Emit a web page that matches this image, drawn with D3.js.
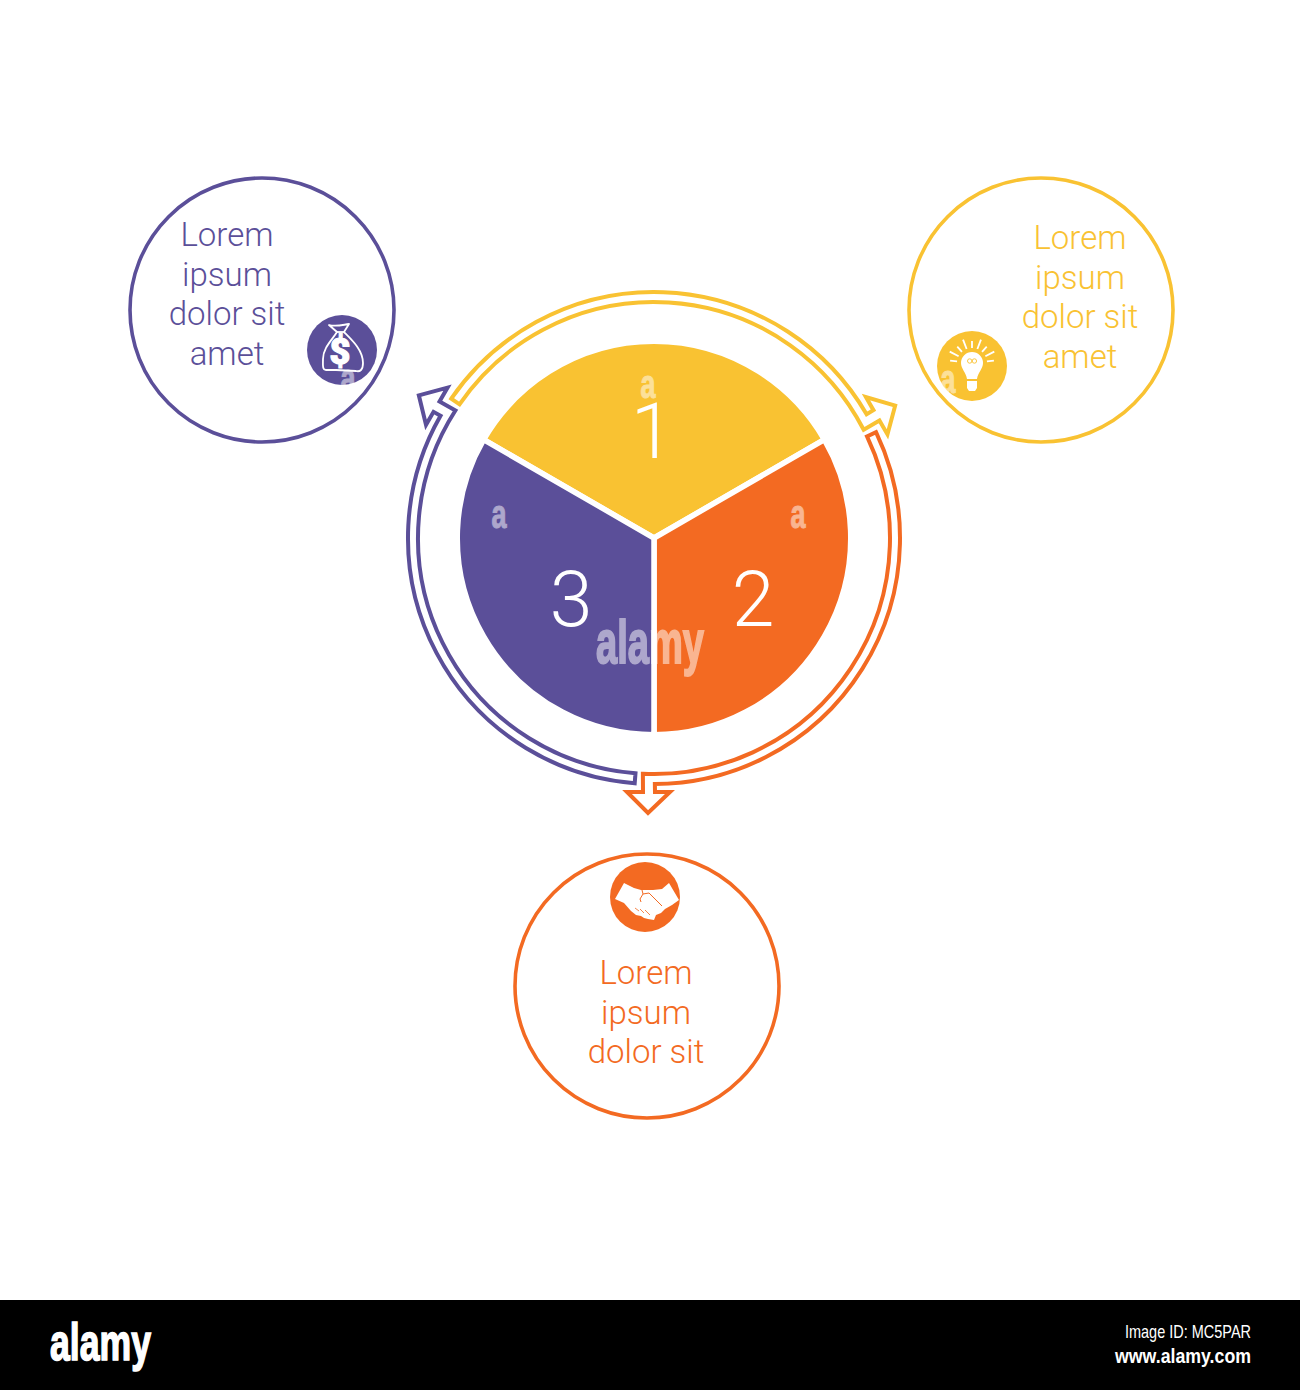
<!DOCTYPE html>
<html>
<head>
<meta charset="utf-8">
<script src="https://cdn.jsdelivr.net/npm/d3@7"></script>
<style>
  html, body { margin: 0; padding: 0; background: #fff; }
  svg { display: block; }
  text { font-family: Roboto, sans-serif; }
  .brand { font-family: "Liberation Sans", sans-serif; font-weight: 700; }
  .narrow { font-family: "Liberation Sans Narrow", "Liberation Sans", sans-serif; }
</style>
</head>
<body>
<svg width="1300" height="1390"></svg>
<script>
// chart values
const steps = ['1', '2', '3'];
const shares = [1, 1, 1];
const colors = ['#f9c232', '#f36a22', '#5b4f99'];
const captions = [
  ['Lorem', 'ipsum', 'dolor sit', 'amet'],
  ['Lorem', 'ipsum', 'dolor sit'],
  ['Lorem', 'ipsum', 'dolor sit', 'amet']
];
const icons = ['bulb', 'hands', 'bag'];

// layout
const svg = d3.select('svg');
const cx = 654, cy = 538, pieR = 196.75;
const rad = d => d * Math.PI / 180;

const bubbles = [
  { x: 1041, y: 310, tx: 1080, ty: 249, ix: 972, iy: 366 },
  { x: 647, y: 986, tx: 646, ty: 984, ix: 645, iy: 897 },
  { x: 262, y: 310, tx: 227, ty: 246, ix: 342, iy: 350 }
];

// pie
let pie = d3.pie().sort(null).startAngle(rad(-60)).endAngle(rad(300));
let arc = d3.arc().innerRadius(0).outerRadius(pieR);
let g = svg.append('g').attr('transform', 'translate(' + cx + ',' + cy + ')');

g.selectAll('.slice')
  .data(pie(shares))
  .enter().append('path')
  .attr('class', 'slice')
  .attr('d', arc)
  .attr('fill', (d, i) => colors[i])
  .attr('stroke', '#fff')
  .attr('stroke-width', 5.5)
  .attr('stroke-linejoin', 'miter');

// step numbers
const numberAt = [[652, 458], [753, 626], [571, 626]];
svg.selectAll('.num')
  .data(steps)
  .enter().append('text')
  .attr('class', 'num')
  .attr('x', (d, i) => numberAt[i][0])
  .attr('y', (d, i) => numberAt[i][1])
  .attr('text-anchor', 'middle')
  .attr('font-size', 77)
  .attr('font-weight', 300)
  .attr('fill', '#fff')
  .text(d => d);

// ring arrows, drawn once for step 2 and turned for the others
function arrowPath() {
  const inner = 236, outer = 246, start = 64.5;
  const p = d3.path();
  const a = (r, deg) => [r * Math.sin(rad(deg)), -r * Math.cos(rad(deg))];
  p.moveTo(...a(inner, start));
  p.arc(0, 0, inner, rad(start - 90), rad(182.7 - 90));
  p.lineTo(-11, 254);
  p.lineTo(-27, 254);
  p.lineTo(-6, 275);
  p.lineTo(16, 254);
  p.lineTo(1, 254);
  p.lineTo(...a(outer, 179.8));
  p.arc(0, 0, outer, rad(179.8 - 90), rad(start - 90), true);
  p.closePath();
  return p.toString();
}
g.selectAll('.ring')
  .data(steps)
  .enter().append('path')
  .attr('class', 'ring')
  .attr('d', arrowPath())
  .attr('transform', (d, i) => 'rotate(' + (i - 1) * 120 + ')')
  .attr('fill', 'none')
  .attr('stroke', (d, i) => colors[i])
  .attr('stroke-width', 4)
  .attr('stroke-miterlimit', 8);

// outer circles with text
let bubble = svg.selectAll('.bubble')
  .data(steps)
  .enter().append('g')
  .attr('class', 'bubble');

bubble.append('circle')
  .attr('cx', (d, i) => bubbles[i].x)
  .attr('cy', (d, i) => bubbles[i].y)
  .attr('r', 132)
  .attr('fill', 'none')
  .attr('stroke', (d, i) => colors[i])
  .attr('stroke-width', 3.6);

bubble.each(function (d, i) {
  d3.select(this).selectAll('text')
    .data(captions[i])
    .enter().append('text')
    .attr('x', bubbles[i].tx)
    .attr('y', (t, j) => bubbles[i].ty + j * 39.6)
    .attr('text-anchor', 'middle')
    .attr('font-size', 33)
    .attr('font-weight', 300)
    .attr('fill', colors[i])
    .text(t => t);
});

// icons
let icon = svg.selectAll('.icon')
  .data(icons)
  .enter().append('g')
  .attr('class', 'icon')
  .attr('transform', (d, i) => 'translate(' + bubbles[i].ix + ',' + bubbles[i].iy + ')');

icon.append('circle')
  .attr('r', 35)
  .attr('fill', (d, i) => colors[i]);

icon.each(function (name, i) {
  const el = d3.select(this);
  if (name === 'bulb') {
    const rays = [-84, -63, -42, -21, 0, 21, 42, 63, 84];
    el.selectAll('line')
      .data(rays)
      .enter().append('line')
      .attr('x1', a => 15 * Math.sin(rad(a)))
      .attr('y1', a => -3 - 15 * Math.cos(rad(a)))
      .attr('x2', (a, j) => (j % 2 ? 25 : 22) * Math.sin(rad(a)))
      .attr('y2', (a, j) => -3 - (j % 2 ? 25 : 22) * Math.cos(rad(a)))
      .attr('stroke', '#fff')
      .attr('stroke-width', 1.8);
    el.append('path')
      .attr('d', 'M-5,13 C-6,6 -11,3 -11,-3 A11,11 0 0 1 11,-3 C11,3 6,6 5,13 Z')
      .attr('fill', '#fff');
    el.append('path')
      .attr('d', 'M-4.5,-5 a2.2,2.2 0 1 1 4.4,0 a2.2,2.2 0 1 1 -4.4,0 M0.2,-5 a2.2,2.2 0 1 1 4.4,0 a2.2,2.2 0 1 1 -4.4,0')
      .attr('fill', 'none')
      .attr('stroke', colors[i])
      .attr('stroke-width', 0.9);
    el.append('path')
      .attr('d', 'M-5,15 H5 V22 L3,25 H-3 L-5,22 Z')
      .attr('fill', '#fff');
  } else if (name === 'hands') {
    el.append('path')
      .attr('d', 'M-30,2 L-21,-14 L-11,-9 L-4,-7 L8,-7 L17,-8 L24,-14 L34,3 L27,8 L20,12 L16,16 L11,18 L9,23 L3,22 L-1,21 L-4,19 L-9,18 L-14,14 L-21,6 Z')
      .attr('fill', '#fff');
    el.append('path')
      .attr('d', 'M17,9 L4,-4 L-2,-3 L-5,2 L-4,5 M-2,-3 L-3,-7')
      .attr('fill', 'none')
      .attr('stroke', colors[i])
      .attr('stroke-width', 1);
    el.append('path')
      .attr('d', 'M-10,11 L-6,14 M-5,12 L-1,16 M0,13 L5,18')
      .attr('fill', 'none')
      .attr('stroke', colors[i])
      .attr('stroke-width', 0.8);
  } else {
    el.append('path')
      .attr('d', 'M-13,-25 C-6,-23 0,-25 7,-26 L2,-18 C10,-10 21,0 21,13 C21,20 18,22 14,21 L-6,20 L-16,20 C-20,20 -19,14 -19,9 C-19,-2 -10,-10 -5,-18 Z')
      .attr('fill', 'none')
      .attr('stroke', '#fff')
      .attr('stroke-width', 1.8)
      .attr('stroke-linejoin', 'round');
    el.append('line')
      .attr('x1', -5).attr('y1', -18).attr('x2', 2).attr('y2', -18)
      .attr('stroke', '#fff').attr('stroke-width', 1.8);
    el.append('text')
      .attr('x', -2)
      .attr('y', 14)
      .attr('text-anchor', 'middle')
      .attr('font-size', 36)
      .attr('font-weight', 900)
      .attr('fill', '#fff')
      .attr('stroke', '#fff')
      .attr('stroke-width', 1.2)
      .text('$');
  }
});

// watermark
const marks = [[648, 398], [499, 528], [798, 528], [348, 392], [948, 393]];
svg.selectAll('.mark')
  .data(marks)
  .enter().append('text')
  .attr('class', 'mark brand')
  .attr('x', d => d[0])
  .attr('y', d => d[1])
  .attr('text-anchor', 'middle')
  .attr('font-size', 41)
  .attr('textLength', 15)
  .attr('lengthAdjust', 'spacingAndGlyphs')
  .attr('fill', '#fff')
  .attr('stroke', '#fff')
  .attr('stroke-width', 1)
  .attr('paint-order', 'stroke')
  .attr('opacity', 0.5)
  .text('a');

svg.append('text')
  .attr('class', 'brand')
  .attr('x', 596).attr('y', 663)
  .attr('font-size', 62)
  .attr('textLength', 108)
  .attr('lengthAdjust', 'spacingAndGlyphs')
  .attr('fill', '#fff')
  .attr('stroke', '#fff')
  .attr('stroke-width', 2)
  .attr('opacity', 0.5)
  .text('alamy');

// footer band
svg.append('rect')
  .attr('x', 0).attr('y', 1300)
  .attr('width', 1300).attr('height', 90)
  .attr('fill', '#000');

svg.append('text')
  .attr('class', 'brand')
  .attr('x', 50).attr('y', 1360)
  .attr('font-size', 52)
  .attr('textLength', 101)
  .attr('lengthAdjust', 'spacingAndGlyphs')
  .attr('fill', '#fff')
  .attr('stroke', '#fff')
  .attr('stroke-width', 1.6)
  .text('alamy');

svg.append('text')
  .attr('class', 'narrow')
  .attr('x', 1251).attr('y', 1338)
  .attr('text-anchor', 'end')
  .attr('font-size', 19)
  .attr('textLength', 126)
  .attr('lengthAdjust', 'spacingAndGlyphs')
  .attr('fill', '#fff')
  .text('Image ID: MC5PAR');

svg.append('text')
  .attr('class', 'narrow')
  .attr('x', 1251).attr('y', 1363)
  .attr('text-anchor', 'end')
  .attr('font-size', 20)
  .attr('font-weight', 700)
  .attr('textLength', 136)
  .attr('lengthAdjust', 'spacingAndGlyphs')
  .attr('fill', '#fff')
  .text('www.alamy.com');
</script>
</body>
</html>
